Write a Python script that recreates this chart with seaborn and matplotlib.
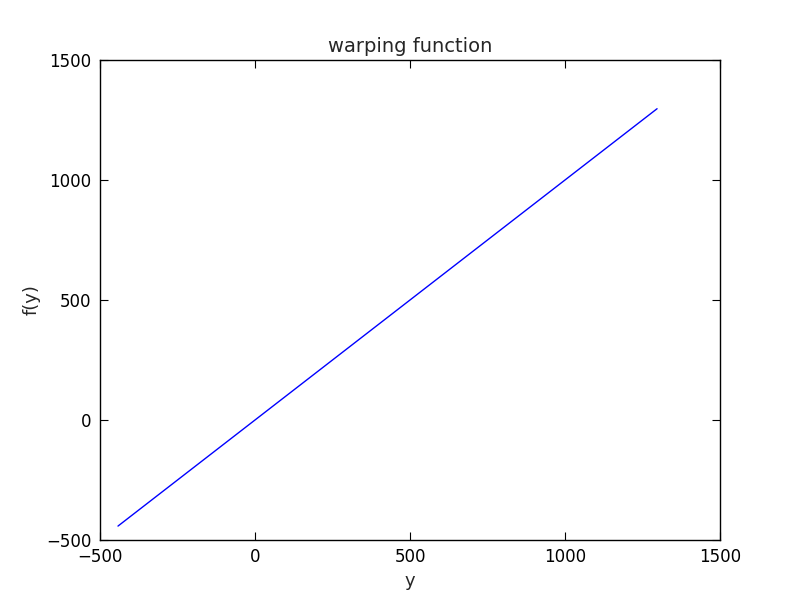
import matplotlib
matplotlib.use("Agg")
import matplotlib.pyplot as plt
import seaborn as sns
import pandas as pd

y_vals = [-442, 1297]
f_vals = [-442, 1297]

sns.set_style("white")
plt.rcParams['font.family'] = ['DejaVu Sans']
fig = plt.figure(figsize=(8, 6), dpi=100)
ax = fig.add_axes([0.125, 0.1, 0.775, 0.8])
df = pd.DataFrame({"y": y_vals, "f": f_vals})
sns.lineplot(data=df, x="y", y="f", ax=ax, color="blue", linewidth=1)
ax.set_xlim(-500, 1500)
ax.set_ylim(-500, 1500)
ax.set_xticks([-500, 0, 500, 1000, 1500])
ax.set_yticks([-500, 0, 500, 1000, 1500])
ax.tick_params(direction="in", length=6, width=0.8, top=True, right=True,
               bottom=True, left=True, labelsize=12, colors="black", pad=6)
for s in ax.spines.values():
    s.set_color("black"); s.set_linewidth(1)
ax.set_xlabel("y", fontsize=13)
ax.set_ylabel("f(y)", fontsize=13)
ax.set_title("warping function", fontsize=14)
fig.savefig("out.png", dpi=100)
